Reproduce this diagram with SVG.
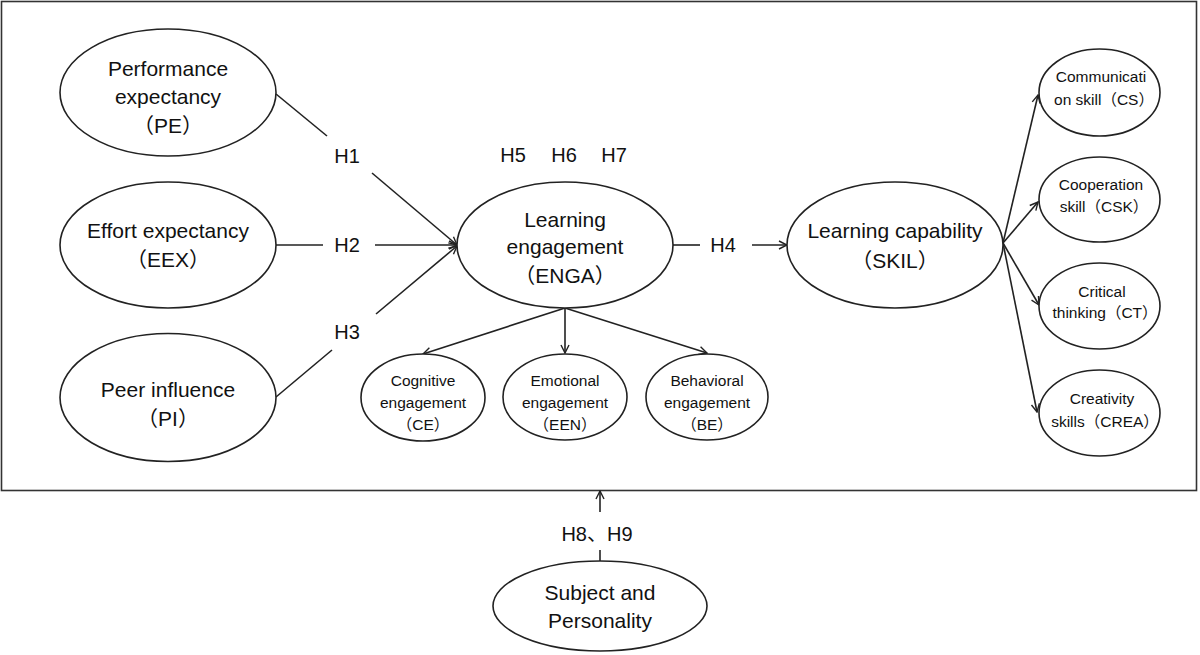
<svg xmlns="http://www.w3.org/2000/svg" width="1200" height="655" viewBox="0 0 1200 655">
<style>
.n{fill:#fff;stroke:#222;stroke-width:1.6}
.t{font-family:"Liberation Sans","Noto Sans CJK SC",sans-serif;font-size:21px;fill:#111;text-anchor:middle}
.h{font-family:"Liberation Sans","Noto Sans CJK SC",sans-serif;font-size:20px;fill:#111;text-anchor:middle}
.s{font-family:"Liberation Sans","Noto Sans CJK SC",sans-serif;font-size:15.5px;fill:#111;text-anchor:middle}
.c{stroke:#222;stroke-width:1.6;fill:none}
.a{marker-end:url(#arr)}
</style>
<defs>
<marker id="arr" viewBox="0 0 10 10" refX="9" refY="5" markerWidth="10" markerHeight="10" markerUnits="userSpaceOnUse" orient="auto">
<path d="M1,1 L9,5 L1,9" fill="none" stroke="#222" stroke-width="1.4"/>
</marker>
</defs>
<rect x="1.5" y="1.5" width="1195" height="489" fill="#fff" stroke="#333" stroke-width="1.6"/>
<g id="connectors">
<line class="c" x1="276" y1="94" x2="327" y2="136"/>
<line class="c a" x1="372" y1="173" x2="457" y2="245"/>
<line class="c" x1="276" y1="245" x2="323" y2="245"/>
<line class="c a" x1="375" y1="245" x2="457" y2="245"/>
<line class="c" x1="276" y1="397" x2="332" y2="350"/>
<line class="c a" x1="376" y1="314" x2="457" y2="246"/>
<line class="c" x1="672" y1="245" x2="700" y2="245"/>
<line class="c a" x1="752" y1="245" x2="787" y2="245"/>
<line class="c a" x1="565" y1="308" x2="423" y2="354"/>
<line class="c a" x1="565" y1="308" x2="565" y2="353"/>
<line class="c a" x1="565" y1="308" x2="707" y2="353"/>
<line class="c a" x1="1003" y1="243" x2="1038" y2="95"/>
<line class="c a" x1="1003" y1="243" x2="1038" y2="202"/>
<line class="c a" x1="1003" y1="243" x2="1039" y2="305"/>
<line class="c a" x1="1003" y1="243" x2="1037" y2="412"/>
<line class="c a" x1="600" y1="512" x2="600" y2="491"/>
<line class="c" x1="600" y1="550" x2="600" y2="561"/>
<text class="h" x="347" y="163">H1</text>
<text class="h" x="347" y="252">H2</text>
<text class="h" x="347" y="339">H3</text>
<text class="h" x="723" y="252">H4</text>
<text class="h" x="513" y="162">H5</text>
<text class="h" x="564" y="162">H6</text>
<text class="h" x="614" y="162">H7</text>
<text class="h" x="597" y="541">H8、H9</text>
</g>
<g id="PE"><ellipse class="n" cx="168" cy="92.5" rx="108" ry="63.5"/>
<text class="t" x="168" y="76">Performance</text><text class="t" x="168" y="104">expectancy</text><text class="t" x="168" y="133">（PE）</text></g>
<g id="EEX"><ellipse class="n" cx="168" cy="245" rx="108" ry="63"/>
<text class="t" x="168" y="238">Effort expectancy</text><text class="t" x="168" y="267">（EEX）</text></g>
<g id="PI"><ellipse class="n" cx="168" cy="397.5" rx="108" ry="64"/>
<text class="t" x="168" y="397">Peer influence</text><text class="t" x="168" y="426">（PI）</text></g>
<g id="ENGA"><ellipse class="n" cx="565" cy="245" rx="108" ry="63"/>
<text class="t" x="565" y="227">Learning</text><text class="t" x="565" y="254">engagement</text><text class="t" x="565" y="283">（ENGA）</text></g>
<g id="SKIL"><ellipse class="n" cx="895" cy="245" rx="108" ry="63"/>
<text class="t" x="895" y="238">Learning capability</text><text class="t" x="895" y="268">（SKIL）</text></g>
<g id="CE"><ellipse class="n" cx="423" cy="397.5" rx="62" ry="43.5"/>
<text class="s" x="423" y="386">Cognitive</text><text class="s" x="423" y="408">engagement</text><text class="s" x="423" y="430">（CE）</text></g>
<g id="EEN"><ellipse class="n" cx="565" cy="397" rx="62" ry="43"/>
<text class="s" x="565" y="386">Emotional</text><text class="s" x="565" y="408">engagement</text><text class="s" x="565" y="430">（EEN）</text></g>
<g id="BE"><ellipse class="n" cx="707" cy="397" rx="61" ry="43"/>
<text class="s" x="707" y="386">Behavioral</text><text class="s" x="707" y="408">engagement</text><text class="s" x="707" y="430">（BE）</text></g>
<g id="CS"><ellipse class="n" cx="1099.5" cy="92.5" rx="60.5" ry="43.5"/>
<text class="s" x="1101" y="82">Communicati</text><text class="s" x="1104" y="105">on skill（CS）</text></g>
<g id="CSK"><ellipse class="n" cx="1099.5" cy="199.5" rx="60.5" ry="42.5"/>
<text class="s" x="1101" y="190">Cooperation</text><text class="s" x="1104" y="212">skill（CSK）</text></g>
<g id="CT"><ellipse class="n" cx="1099.5" cy="306" rx="60.5" ry="43"/>
<text class="s" x="1102" y="297">Critical</text><text class="s" x="1105" y="318">thinking（CT）</text></g>
<g id="CREA"><ellipse class="n" cx="1099.5" cy="413" rx="60.5" ry="43"/>
<text class="s" x="1102" y="404">Creativity</text><text class="s" x="1105" y="427">skills（CREA）</text></g>
<g id="SP"><ellipse class="n" cx="600" cy="606" rx="107" ry="45"/>
<text class="t" x="600" y="600">Subject and</text><text class="t" x="600" y="628">Personality</text></g>
</svg>
